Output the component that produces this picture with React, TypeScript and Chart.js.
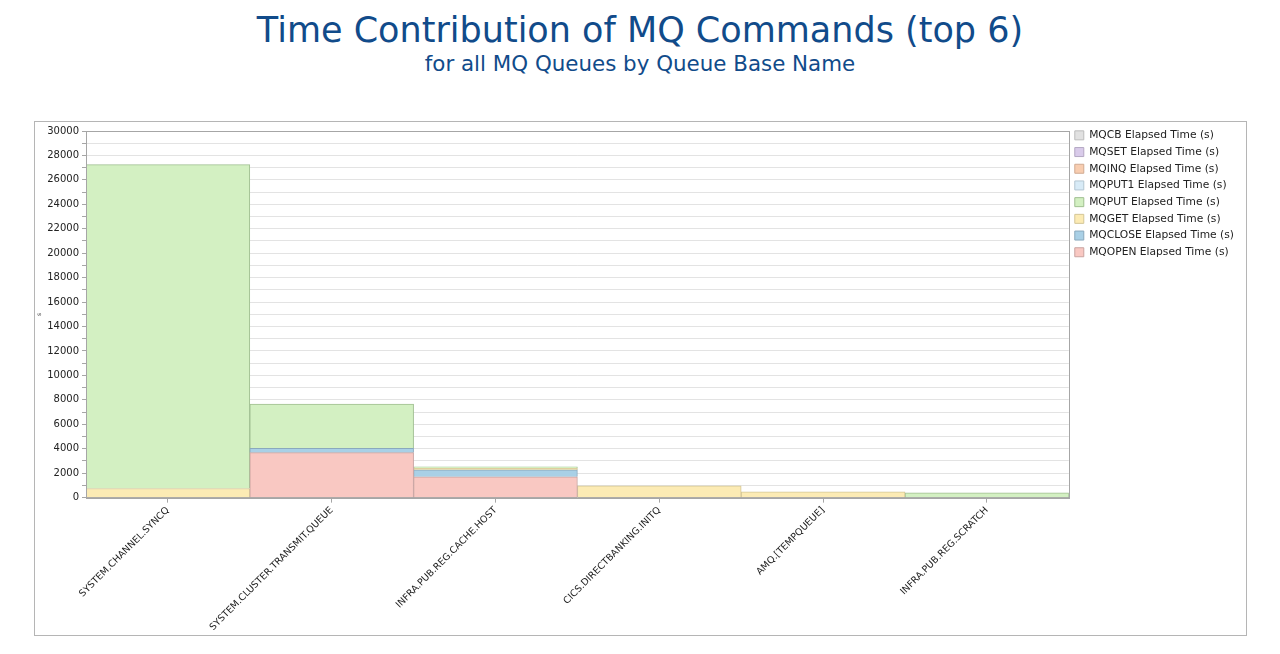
import React, { useEffect, useRef } from "react";
import { Chart, registerables } from "chart.js";

Chart.register(...registerables);

const categories = [
  "SYSTEM.CHANNEL.SYNCQ",
  "SYSTEM.CLUSTER.TRANSMIT.QUEUE",
  "INFRA.PUB.REG.CACHE.HOST",
  "CICS.DIRECTBANKING.INITQ",
  "AMQ.[TEMPQUEUE]",
  "INFRA.PUB.REG.SCRATCH",
];

// stacked from bottom to top
const mqopen = [0, 3680, 1700, 0, 0, 0];
const mqclose = [0, 350, 570, 0, 0, 0];
const mqget = [750, 0, 150, 960, 480, 0];
const mqput = [26500, 3630, 100, 0, 0, 400];
const mqput1 = [0, 0, 0, 0, 0, 0];
const mqinq = [0, 0, 0, 0, 0, 0];
const mqset = [0, 0, 0, 0, 0, 0];
const mqcb = [0, 0, 0, 0, 0, 0];

const yMin = 0;
const yMax = 30000;
const yStep = 1000;

const seriesNames = [
  "MQOPEN Elapsed Time (s)",
  "MQCLOSE Elapsed Time (s)",
  "MQGET Elapsed Time (s)",
  "MQPUT Elapsed Time (s)",
  "MQPUT1 Elapsed Time (s)",
  "MQINQ Elapsed Time (s)",
  "MQSET Elapsed Time (s)",
  "MQCB Elapsed Time (s)",
];
const seriesData = [mqopen, mqclose, mqget, mqput, mqput1, mqinq, mqset, mqcb];
const fills = [
  "#f9c8c2",
  "#a9d0e6",
  "#fcebb4",
  "#d3f0c2",
  "#d8ebf7",
  "#f8cdb0",
  "#d9cbea",
  "#e1e1e1",
];
const borders = [
  "#c9a3a0",
  "#8aa9bd",
  "#d4c697",
  "#a0bf91",
  "#b4c6d2",
  "#d1ab92",
  "#b4a8c4",
  "#bcbcbc",
];

const frameBorder = {
  id: "frameBorder",
  afterDraw(chart: any) {
    const { ctx, chartArea } = chart;
    ctx.save();
    ctx.strokeStyle = "#a6a6a6";
    ctx.lineWidth = 1;
    ctx.strokeRect(
      Math.round(chartArea.left) + 0.5,
      Math.round(chartArea.top) + 0.5,
      Math.round(chartArea.right - chartArea.left),
      Math.round(chartArea.bottom - chartArea.top)
    );
    ctx.restore();
  },
};

export default function App() {
  const ref = useRef<HTMLCanvasElement>(null);

  useEffect(() => {
    if (!ref.current) return;
    const chart = new Chart(ref.current, {
      type: "bar",
      data: {
        labels: categories,
        datasets: seriesNames.map((name, i) => ({
          label: name,
          data: seriesData[i],
          backgroundColor: fills[i],
          borderColor: borders[i],
          borderWidth: 1,
          barPercentage: 1,
          categoryPercentage: 1,
        })),
      },
      options: {
        animation: false,
        responsive: false,
        maintainAspectRatio: false,
        layout: { padding: { top: 2, right: 2, bottom: 0, left: 0 } },
        plugins: {
          title: { display: false },
          tooltip: { enabled: false },
          legend: {
            position: "right",
            align: "start",
            reverse: true,
            labels: {
              boxWidth: 9,
              boxHeight: 9,
              padding: 6,
              color: "#222",
              font: { family: "DejaVu Sans", size: 10.7 },
            },
          },
        },
        scales: {
          x: {
            stacked: true,
            offset: true,
            grid: {
              display: true,
              offset: false,
              drawOnChartArea: false,
              drawTicks: true,
              tickLength: 5,
              color: "#a6a6a6",
            },
            border: { color: "#a6a6a6" },
            ticks: {
              minRotation: 45,
              maxRotation: 45,
              autoSkip: false,
              padding: 2,
              color: "#222",
              font: { family: "DejaVu Sans", size: 9.5 },
            },
          },
          y: {
            stacked: true,
            min: yMin,
            max: yMax,
            title: {
              display: true,
              text: "s",
              color: "#444",
              font: { family: "DejaVu Sans", size: 6 },
              padding: 1,
            },
            grid: {
              color: "#e3e3e3",
              tickLength: 4,
              tickColor: "#a6a6a6",
            },
            border: { color: "#a6a6a6" },
            ticks: {
              stepSize: yStep,
              autoSkip: false,
              color: "#222",
              padding: 3,
              font: { family: "DejaVu Sans", size: 10 },
              callback: (v: any) => (Number(v) % 2000 === 0 ? String(v) : ""),
            },
          },
        },
      },
      plugins: [frameBorder],
    });
    return () => chart.destroy();
  }, []);

  return (
    <div style={{ position: "relative", width: 1264, height: 638 }}>
      <div
        style={{
          position: "absolute",
          left: 0,
          top: 2,
          width: 1264,
          textAlign: "center",
          fontFamily: "DejaVu Sans",
          color: "#114b8a",
          fontSize: 35,
          lineHeight: "40px",
        }}
      >
        Time Contribution of MQ Commands (top 6)
      </div>
      <div
        style={{
          position: "absolute",
          left: 0,
          top: 43,
          width: 1264,
          textAlign: "center",
          fontFamily: "DejaVu Sans",
          color: "#114b8a",
          fontSize: 21.4,
          lineHeight: "26px",
        }}
      >
        for all MQ Queues by Queue Base Name
      </div>
      <div
        style={{
          position: "absolute",
          left: 26,
          top: 113,
          width: 1211,
          height: 513,
          border: "1px solid #b5b5b5",
        }}
      >
        <canvas ref={ref} width={1211} height={513} style={{ display: "block" }} />
      </div>
    </div>
  );
}
